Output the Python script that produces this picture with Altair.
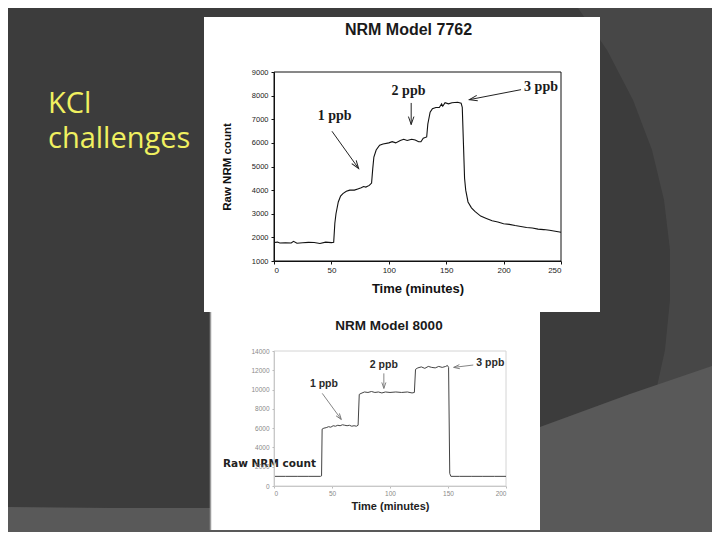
import math
import altair as alt
import pandas as pd

# ---------------- data: NRM Model 7762 ----------------
t7762 = [0, 3, 5, 10, 15, 17, 20, 25, 30, 35, 40, 45, 50, 52, 53, 54, 56, 58, 60, 63,
         66, 70, 73, 76, 78, 80, 83, 85, 86, 87, 89, 92, 95, 100, 103, 106, 110, 113, 116, 120,
         123, 126, 128, 130, 133, 134, 136, 138, 141, 144, 146, 147, 149, 152, 155, 160, 163, 164, 165, 166,
         167, 169, 172, 175, 180, 185, 190, 195, 200, 205, 210, 215, 220, 225, 230, 235, 240, 245, 250]
n7762 = [1780, 1800, 1760, 1770, 1760, 1830, 1750, 1770, 1790, 1780, 1740, 1800, 1780, 1790, 2600, 3000, 3500, 3750, 3850, 3950,
         4000, 4000, 4050, 4100, 4150, 4130, 4200, 4300, 4900, 5400, 5700, 5900, 5950, 6000, 6050, 6000, 6100, 6150, 6100, 6150,
         6120, 6050, 6050, 6200, 6250, 6800, 7300, 7450, 7500, 7500, 7650, 7550, 7700, 7650, 7700, 7720, 7680, 7500, 6000, 4500,
         4000, 3500, 3250, 3100, 2900, 2800, 2700, 2650, 2580, 2550, 2500, 2460, 2420, 2400, 2350, 2330, 2300, 2260, 2220]

# ---------------- data: NRM Model 8000 ----------------
t8000 = [0, 10, 20, 30, 40, 41, 41.5, 43, 45, 47, 49, 51, 53, 55, 57, 59, 61, 63, 65, 67,
         69, 71, 72.5, 73.5, 75, 78, 81, 84, 87, 90, 93, 96, 100, 105, 110, 115, 119, 121, 122, 124,
         127, 130, 133, 136, 139, 142, 145, 148, 149.5, 150.5, 151.5, 152.5, 160, 170, 180, 190, 200]
n8000 = [1000, 1000, 1000, 1000, 1000, 1050, 5900, 6000, 6050, 6150, 6100, 6250, 6200, 6300, 6250, 6350, 6300, 6250, 6300, 6200,
         6250, 6200, 6300, 9500, 9600, 9750, 9700, 9800, 9700, 9750, 9650, 9750, 9700, 9750, 9700, 9750, 9650, 9700, 12100, 12250,
         12350, 12200, 12400, 12300, 12250, 12400, 12300, 12400, 12500, 12300, 1300, 1000, 1000, 1000, 1000, 1000, 1000]

# ---------------- annotations ----------------
ppb_labels = ["1 ppb", "2 ppb", "3 ppb"]
# top chart (data units)
a1_text_t = [52.8, 117.2, 232.6]
a1_text_v = [7125, 8181, 8350]
a1_from_t = [50.5, 119.5, 215.2]
a1_from_v = [6492, 7690, 8253]
a1_to_t = [73.7, 119.5, 170.2]
a1_to_v = [4916, 6775, 7830]
# bottom chart (data units)
a2_text_t = [43, 94.7, 186.5]
a2_text_v = [10570, 12545, 12785]
a2_from_t = [41.6, 94.7, 171.8]
a2_from_v = [9604, 11680, 12545]
a2_to_t = [58, 94.7, 154.9]
a2_to_v = [6900, 10120, 12300]

x1_ticks = [0, 50, 100, 150, 200, 250]
y1_ticks = [1000, 2000, 3000, 4000, 5000, 6000, 7000, 8000, 9000]
x2_ticks = [0, 50, 100, 150, 200]
y2_ticks = [0, 2000, 4000, 6000, 8000, 10000, 12000, 14000]

# slide decoration outlines (page pixels)
arc_py = [8, 50, 100, 150, 200, 250, 300, 350, 400, 420]
arc_px = [578, 607, 633, 652, 664, 670, 670, 665, 654, 650]
band_px = [8, 110, 210, 300, 400, 540, 630, 712]
band_py = [507, 508, 508, 494, 470, 427, 394, 366]

# ---------------- layout constants ----------------
W1, H1 = 287, 189
W2, H2 = 232, 135
OX, OY1, OY2 = 274, 72, 351  # plot origins on the page
PX0, PX1, PY0, PY1 = 8, 712, 8, 532  # drawable page area
BG = "#3c3c3c"
SANS = "Liberation Sans"

one = pd.DataFrame({"k": [0]})


def arrows(ft, fv, tt, tv, sx, sy):
    ang = []
    for t0, v0, t1, v1 in zip(ft, fv, tt, tv):
        dx = (t1 - t0) * sx
        dy = -(v1 - v0) * sy
        ang.append(math.degrees(math.atan2(dx, -dy)) % 360)
    return pd.DataFrame({"t0": ft, "v0": fv, "t1": tt, "v1": tv, "ang": ang})


def vrect(x0, x1, y0, y1, **kw):
    return alt.Chart(one).mark_rect(**kw).encode(
        x=alt.value(x0), x2=alt.value(x1), y=alt.value(y0), y2=alt.value(y1))


def vtext(txt, x, y, **kw):
    return alt.Chart(one).mark_text(text=txt, **kw).encode(x=alt.value(x), y=alt.value(y))


HEAD = "M -0.55 1.6 L 0 0 L 0.55 1.6"

# ================= top chart =================
xs1 = alt.Scale(domain=[0, 250], nice=False, zero=False)
ys1 = alt.Scale(domain=[1000, 9000], nice=False, zero=False)
ax1x = alt.Axis(orient="bottom", values=x1_ticks, format="d", labelOverlap=False, title="Time (minutes)",
                grid=False, zindex=1,
                labelFont=SANS, labelFontSize=8, labelColor="#222", labelPadding=2,
                tickSize=3, tickColor="#111", domainColor="#111",
                titleFont=SANS, titleFontSize=13, titleFontWeight="bold", titleColor="#111", titlePadding=8)
ax1y = alt.Axis(orient="left", values=y1_ticks, format="d", labelOverlap=False, title="Raw NRM count",
                grid=False, zindex=1,
                labelFont=SANS, labelFontSize=7.5, labelColor="#222", labelPadding=3,
                tickSize=3, tickColor="#111", domainColor="#111",
                titleFont=SANS, titleFontSize=11.5, titleFontWeight="bold", titleColor="#111", titlePadding=19)

bg = vrect(PX0 - OX, PX1 - OX, PY0 - OY1, PY1 - OY1, color=BG)
arc_df = pd.DataFrame({"py": [y - OY1 for y in arc_py], "px": [x - OX for x in arc_px],
                       "px2": [PX1 - OX] * len(arc_py)})
arc = alt.Chart(arc_df).mark_area(color="#474747", orient="horizontal").encode(
    y=alt.Y("py:Q", scale=None, axis=None), x=alt.X("px:Q", scale=None, axis=None), x2="px2:Q")
band_df = pd.DataFrame({"px": [x - OX for x in band_px], "py": [y - OY1 for y in band_py],
                        "py2": [PY1 - OY1] * len(band_px)})
band = alt.Chart(band_df).mark_area(color="#595959", orient="vertical").encode(
    x=alt.X("px:Q", scale=None, axis=None), y=alt.Y("py:Q", scale=None, axis=None), y2="py2:Q")

panel1 = vrect(204 - OX, 600 - OX, 17 - OY1, 312 - OY1, color="white")
kcl1 = vtext("KCl", 48 - OX, 113 - OY1, font="Open Sans", fontSize=29, color="#f0f060",
             align="left", baseline="alphabetic")
kcl2 = vtext("challenges", 48 - OX, 148 - OY1, font="Open Sans", fontSize=29, color="#f0f060",
             align="left", baseline="alphabetic")
title1 = vtext("NRM Model 7762", 408.5 - OX, 35 - OY1, font=SANS, fontSize=16, fontWeight="bold",
               color="#1a1a1a", align="center", baseline="alphabetic")
frame1 = vrect(0, W1, 0, H1, filled=False, color="#111", strokeWidth=1)

df1 = pd.DataFrame({"t": t7762, "n": n7762})
line1 = alt.Chart(df1).mark_line(color="#111", strokeWidth=1.1).encode(
    x=alt.X("t:Q", scale=xs1, axis=ax1x), y=alt.Y("n:Q", scale=ys1, axis=ax1y))

arr1 = arrows(a1_from_t, a1_from_v, a1_to_t, a1_to_v, W1 / 250, H1 / 8000)
shaft1 = alt.Chart(arr1).mark_rule(color="#222", strokeWidth=1).encode(
    x=alt.X("t0:Q", scale=xs1, axis=ax1x), y=alt.Y("v0:Q", scale=ys1, axis=ax1y), x2="t1:Q", y2="v1:Q")
head1 = alt.Chart(arr1).mark_point(shape=HEAD, size=100, filled=False, color="#222", strokeWidth=1,
                                   opacity=1).encode(
    x=alt.X("t1:Q", scale=xs1, axis=ax1x), y=alt.Y("v1:Q", scale=ys1, axis=ax1y),
    angle=alt.Angle("ang:Q", scale=None))
lab1 = alt.Chart(pd.DataFrame({"t": a1_text_t, "v": a1_text_v, "s": ppb_labels})).mark_text(
    font="Liberation Serif", fontSize=14, fontWeight="bold", color="#1a1a1a", align="center",
    baseline="middle").encode(x=alt.X("t:Q", scale=xs1, axis=ax1x), y=alt.Y("v:Q", scale=ys1, axis=ax1y),
                              text="s:N")

top = alt.layer(bg, arc, band, panel1, kcl1, kcl2, title1, frame1, line1, shaft1, head1, lab1).properties(
    width=W1, height=H1)

# ================= bottom chart =================
xs2 = alt.Scale(domain=[0, 200], nice=False, zero=False)
ys2 = alt.Scale(domain=[0, 14000], nice=False, zero=False)
ax2x = alt.Axis(orient="bottom", values=x2_ticks, format="d", labelOverlap=False, title="Time (minutes)",
                grid=False, zindex=1,
                labelFont=SANS, labelFontSize=6.5, labelColor="#8a8a8a", labelPadding=2,
                tickSize=2, tickColor="#bbbbbb", domainColor="#c8c8c8",
                titleFont=SANS, titleFontSize=11, titleFontWeight="bold", titleColor="#222", titlePadding=4)
ax2y = alt.Axis(orient="left", values=y2_ticks, format="d", labelOverlap=False, title=None, grid=False,
                zindex=1, labelFont=SANS, labelFontSize=6.5, labelColor="#8a8a8a", labelPadding=3,
                tickSize=2, tickColor="#bbbbbb", domainColor="#c8c8c8")

panel2 = vrect(210 - OX, 540 - OX, 312 - OY2, 530 - OY2, color="white")
edge2 = alt.Chart(one).mark_rule(color="#9a9a9a", strokeWidth=1.5).encode(
    x=alt.value(210.5 - OX), y=alt.value(312 - OY2), y2=alt.value(530 - OY2))
title2 = vtext("NRM Model 8000", 389 - OX, 330 - OY2, font=SANS, fontSize=13.5, fontWeight="bold",
               color="#1a1a1a", align="center", baseline="alphabetic")
ytitle2 = vtext("Raw NRM count", 223 - OX, 464 - OY2, font="DejaVu Sans", fontSize=10.5, fontWeight="bold",
                color="#222", align="left", baseline="middle")
frame2 = vrect(0, W2, 0, H2, filled=False, color="#d4d4d4", strokeWidth=1)

df2 = pd.DataFrame({"t": t8000, "n": n8000})
line2 = alt.Chart(df2).mark_line(color="#444", strokeWidth=1).encode(
    x=alt.X("t:Q", scale=xs2, axis=ax2x), y=alt.Y("n:Q", scale=ys2, axis=ax2y))

arr2 = arrows(a2_from_t, a2_from_v, a2_to_t, a2_to_v, W2 / 200, H2 / 14000)
shaft2 = alt.Chart(arr2).mark_rule(color="#777", strokeWidth=0.9).encode(
    x=alt.X("t0:Q", scale=xs2, axis=ax2x), y=alt.Y("v0:Q", scale=ys2, axis=ax2y), x2="t1:Q", y2="v1:Q")
head2 = alt.Chart(arr2).mark_point(shape=HEAD, size=56, filled=False, color="#777", strokeWidth=0.9,
                                   opacity=1).encode(
    x=alt.X("t1:Q", scale=xs2, axis=ax2x), y=alt.Y("v1:Q", scale=ys2, axis=ax2y),
    angle=alt.Angle("ang:Q", scale=None))
lab2 = alt.Chart(pd.DataFrame({"t": a2_text_t, "v": a2_text_v, "s": ppb_labels})).mark_text(
    font=SANS, fontSize=10.5, fontWeight="bold", color="#2a2a2a", align="center",
    baseline="middle").encode(x=alt.X("t:Q", scale=xs2, axis=ax2x), y=alt.Y("v:Q", scale=ys2, axis=ax2y),
                              text="s:N")

bottom = alt.layer(panel2, edge2, title2, ytitle2, frame2, line2, shaft2, head2, lab2).properties(
    width=W2, height=H2)

chart = alt.vconcat(top, bottom, spacing=OY2 - OY1 - H1, bounds="flush").properties(
    background=BG, padding=0).configure_view(stroke=None).configure_axis(labelOverlap=False)

chart.save("out.html", embed_options={"renderer": "svg", "actions": False})
